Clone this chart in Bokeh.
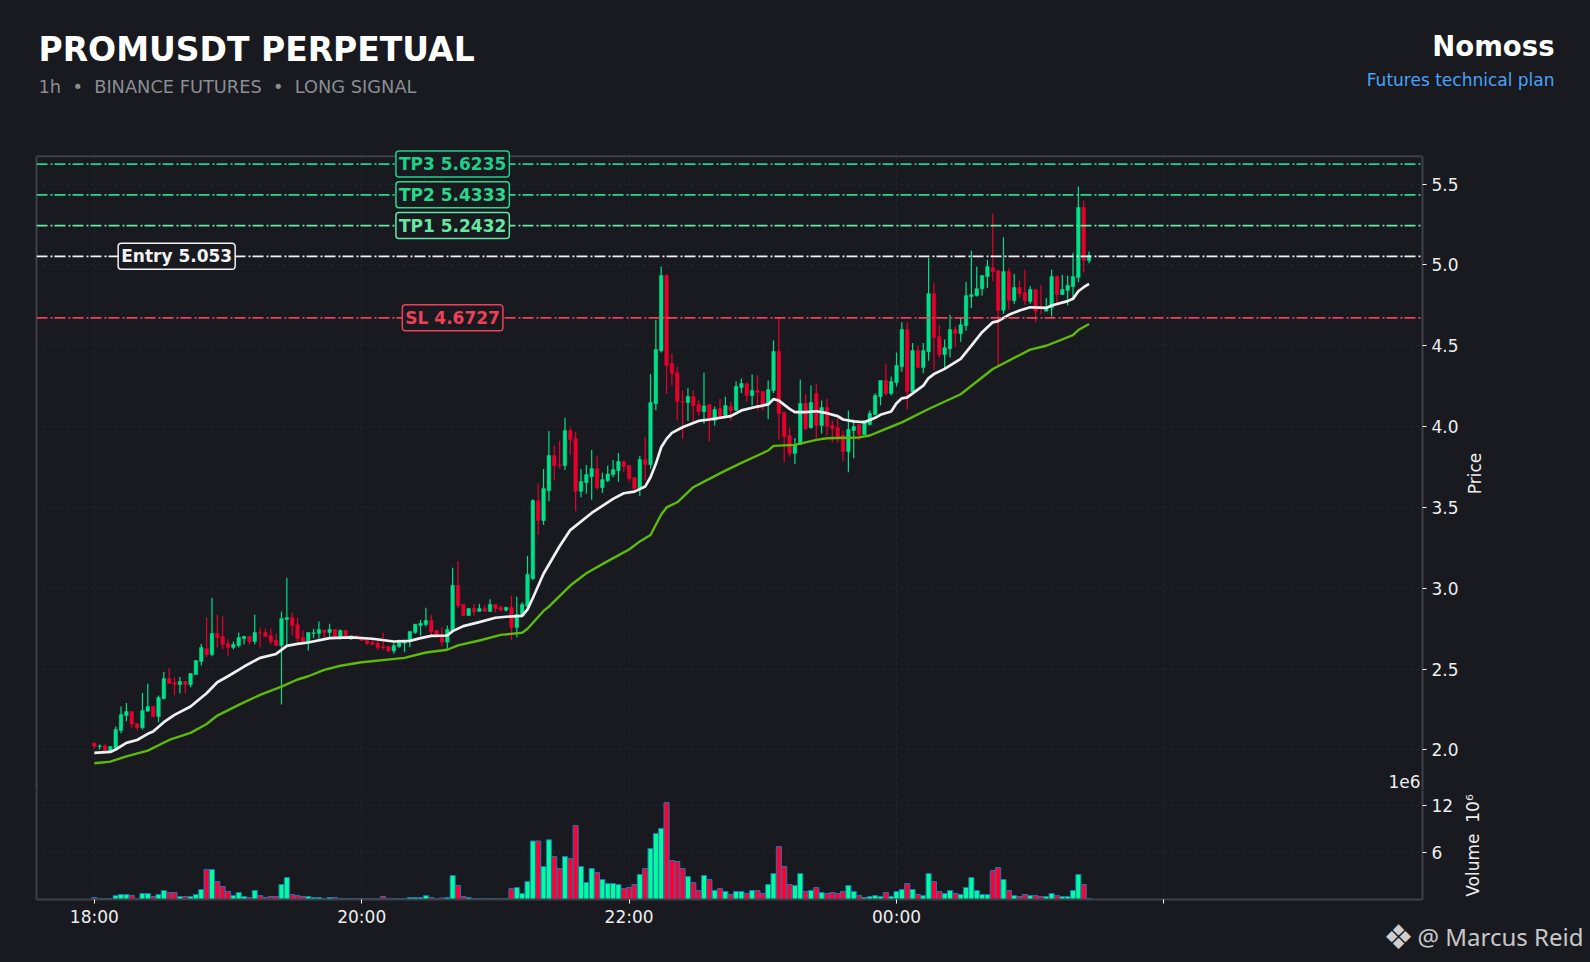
from math import pi
from bokeh.plotting import figure
from bokeh.layouts import column
from bokeh.models import (Range1d, LinearAxis, FixedTicker, Grid, Span, Label, ColumnDataSource)
from bokeh.embed import file_html
from bokeh.resources import INLINE

# ---------- data ----------
open_ = [2.044,2.022,2.027,1.997,2.011,2.12,2.213,2.238,2.164,2.137,2.24,2.269,2.207,2.318,2.442,2.417,2.405,2.423,2.405,2.467,
2.547,2.627,2.59,2.72,2.702,2.658,2.634,2.646,2.689,2.702,2.671,2.726,2.726,2.708,2.677,2.646,2.807,2.819,2.776,2.695,
2.669,2.721,2.721,2.741,2.727,2.745,2.702,2.739,2.687,2.706,2.694,2.677,2.665,2.659,2.638,2.64,2.613,2.64,2.66,2.684,
2.727,2.77,2.776,2.801,2.739,2.702,2.667,2.739,3.018,2.9,2.832,2.875,2.857,2.875,2.857,2.9,2.882,2.865,2.882,2.758,
2.832,2.888,3.06,3.542,3.419,3.604,3.821,3.763,3.759,3.975,3.926,3.6,3.654,3.691,3.74,3.623,3.666,3.703,3.728,3.784,
3.759,3.685,3.617,3.796,3.765,4.142,4.468,4.934,4.39,4.334,4.155,4.149,4.186,4.137,4.093,4.137,4.038,4.112,4.069,4.124,
4.1,4.242,4.265,4.192,4.223,4.217,4.143,4.223,4.465,4.087,3.945,3.834,3.889,4.143,3.994,4.205,4.007,4.118,4.007,3.994,
3.945,3.846,3.976,4.013,3.951,4.013,4.075,4.186,4.285,4.205,4.273,4.371,4.6,4.216,4.47,4.366,4.463,4.822,4.556,4.445,
4.482,4.6,4.575,4.624,4.804,4.81,4.853,4.928,4.982,4.965,4.719,4.959,4.78,4.86,4.829,4.774,4.848,4.735,4.714,4.734,
4.928,4.817,4.842,4.866,4.922,5.355,5.027]
close = [2.023,2.024,1.997,2.021,2.126,2.219,2.238,2.16,2.137,2.244,2.269,2.207,2.324,2.442,2.411,2.407,2.423,2.407,2.473,2.553,
2.634,2.59,2.72,2.695,2.652,2.634,2.652,2.695,2.702,2.671,2.726,2.724,2.702,2.671,2.646,2.813,2.819,2.77,2.69,2.665,
2.727,2.725,2.745,2.727,2.745,2.702,2.739,2.702,2.706,2.702,2.677,2.659,2.654,2.634,2.632,2.613,2.646,2.665,2.67,2.733,
2.778,2.783,2.801,2.731,2.698,2.667,2.745,3.018,2.894,2.832,2.875,2.855,2.875,2.857,2.9,2.875,2.865,2.882,2.758,2.838,
2.9,3.086,3.542,3.419,3.617,3.821,3.759,3.759,3.975,3.92,3.6,3.66,3.703,3.74,3.623,3.672,3.707,3.734,3.784,3.753,
3.678,3.617,3.796,3.765,4.149,4.476,4.934,4.378,4.328,4.155,4.151,4.186,4.13,4.093,4.128,4.048,4.106,4.062,4.13,4.1,
4.248,4.267,4.192,4.223,4.211,4.137,4.229,4.465,4.081,3.939,3.834,3.889,4.143,3.988,4.149,4.007,4.118,4.001,3.988,3.933,
3.846,3.982,4.0,3.951,4.038,4.081,4.192,4.285,4.205,4.279,4.378,4.6,4.216,4.47,4.366,4.47,4.822,4.552,4.445,4.488,
4.6,4.575,4.63,4.81,4.816,4.853,4.934,4.99,4.959,4.718,4.959,4.78,4.86,4.823,4.78,4.848,4.714,4.73,4.734,4.928,
4.817,4.848,4.873,4.928,5.355,5.027,5.058]
high = [2.044,2.034,2.036,2.021,2.145,2.269,2.291,2.238,2.164,2.353,2.409,2.269,2.337,2.483,2.506,2.45,2.452,2.423,2.473,2.553,
2.656,2.819,2.941,2.838,2.825,2.685,2.671,2.726,2.706,2.702,2.838,2.757,2.751,2.751,2.72,2.856,3.065,2.85,2.819,2.739,
2.727,2.75,2.795,2.745,2.78,2.749,2.745,2.739,2.706,2.706,2.7,2.694,2.69,2.681,2.725,2.644,2.661,2.683,2.68,2.733,
2.778,2.805,2.88,2.836,2.739,2.76,2.77,3.127,3.168,2.9,2.875,2.904,2.904,2.896,2.933,2.9,2.894,2.886,2.954,2.948,
2.914,3.201,3.55,3.646,3.738,3.973,3.881,3.912,4.054,3.996,3.967,3.738,3.763,3.856,3.819,3.714,3.759,3.794,3.837,3.79,
3.759,3.685,3.819,3.938,4.326,4.66,4.99,4.945,4.454,4.371,4.223,4.239,4.223,4.161,4.335,4.137,4.124,4.172,4.184,4.151,
4.279,4.298,4.271,4.322,4.316,4.217,4.285,4.533,4.677,4.087,3.996,3.93,4.291,4.199,4.254,4.265,4.161,4.172,4.038,4.05,
3.976,4.1,4.042,4.013,4.038,4.1,4.207,4.285,4.388,4.31,4.458,4.645,4.645,4.517,4.5,4.517,5.043,4.888,4.63,4.538,
4.692,4.62,4.676,4.896,5.088,4.99,4.934,5.031,5.316,4.965,5.171,4.98,4.945,4.903,4.97,4.87,4.848,4.877,4.796,4.97,
4.934,4.938,4.934,5.075,5.485,5.398,5.083]
low = [2.007,2.003,1.997,1.99,2.007,2.104,2.178,2.139,2.122,2.127,2.238,2.201,2.172,2.312,2.411,2.339,2.349,2.351,2.388,2.467,
2.522,2.574,2.58,2.634,2.625,2.584,2.621,2.634,2.652,2.652,2.652,2.636,2.698,2.652,2.644,2.281,2.646,2.708,2.665,2.665,
2.616,2.692,2.688,2.677,2.687,2.698,2.683,2.687,2.681,2.695,2.677,2.648,2.648,2.62,2.62,2.603,2.595,2.632,2.605,2.636,
2.719,2.708,2.764,2.708,2.694,2.64,2.626,2.739,2.88,2.832,2.832,2.83,2.857,2.857,2.857,2.851,2.855,2.857,2.682,2.698,
2.832,2.888,3.05,3.33,3.392,3.538,3.666,3.742,3.732,3.825,3.476,3.563,3.584,3.547,3.608,3.59,3.658,3.687,3.658,3.72,
3.662,3.604,3.571,3.666,3.738,4.101,4.458,4.202,4.256,4.039,3.924,4.035,4.017,4.069,4.017,3.906,4.007,4.05,4.065,4.034,
4.1,4.207,4.153,4.131,4.1,4.1,4.046,4.207,3.918,3.78,3.815,3.768,3.889,3.976,3.986,3.928,3.957,3.945,3.902,3.9,
3.788,3.718,3.805,3.914,3.951,4.007,4.069,4.131,4.192,4.192,4.248,4.34,4.105,4.202,4.362,4.33,4.408,4.352,4.428,4.356,
4.428,4.49,4.525,4.593,4.734,4.804,4.81,4.858,4.899,4.377,4.697,4.724,4.759,4.796,4.755,4.759,4.646,4.693,4.714,4.681,
4.755,4.817,4.749,4.784,4.893,4.955,5.01]
volume_m = [0.26,0.1,0.1,0.1,0.5,0.64,0.64,0.5,0.1,0.77,0.77,0.38,0.64,1.15,0.9,0.9,0.38,0.38,0.38,0.64,
1.28,3.85,3.85,2.3,1.67,1.03,0.5,0.9,0.38,0.26,1.15,0.5,0.26,0.38,0.38,1.92,2.82,0.64,0.5,0.38,
0.38,0.26,0.26,0.1,0.26,0.26,0.1,0.1,0.1,0.1,0.1,0.1,0.1,0.1,0.38,0.1,0.1,0.1,0.1,0.26,
0.26,0.26,0.5,0.26,0.1,0.2,0.26,3.08,1.8,0.38,0.26,0.1,0.1,0.1,0.1,0.1,0.1,0.1,1.41,1.54,
0.77,2.3,7.5,7.5,4.23,7.65,5.5,3.97,5.5,5.26,9.49,4.23,2.18,3.97,3.46,2.56,2.05,2.05,1.92,1.41,
1.54,1.92,3.2,3.97,6.54,8.46,9.1,12.44,5.0,4.87,3.97,2.95,2.18,1.15,3.08,2.56,1.15,1.41,1.03,0.64,
1.03,1.03,0.77,1.15,1.15,0.77,1.92,3.33,6.8,4.23,1.92,1.8,3.33,1.03,1.15,1.54,0.9,0.77,0.9,0.77,
1.03,1.8,1.03,0.5,0.26,0.38,0.5,0.38,0.9,0.38,1.03,1.28,2.05,1.28,0.64,0.5,3.33,2.3,1.03,0.77,
1.15,0.77,0.64,1.54,2.82,1.15,0.64,0.64,3.72,4.1,2.56,1.15,0.5,0.38,0.64,0.5,0.5,0.38,0.38,0.77,
0.5,0.38,0.38,1.15,3.2,1.92,0.13]
fast_idx = [0,3,4,6,8,10,11,13,15,18,21,23,25,28,31,34,36,38,40,44,48,52,56,59,61,63,66,67,69,72,75,77,80,81,82,84,87,89,93,97,99,101,103,104,105,106,107,108,110,112,113,115,119,121,124,126,127,128,130,131,133,135,137,139,140,142,144,146,147,149,150,151,152,155,156,157,159,162,164,166,168,169,171,173,175,178,179,182,183,184,185,186]
fast_ema = [1.982,1.988,2.003,2.044,2.062,2.1,2.114,2.172,2.217,2.269,2.351,2.419,2.456,2.516,2.57,2.594,2.644,2.656,2.665,2.692,2.696,2.688,2.671,2.675,2.692,2.706,2.708,2.735,2.766,2.791,2.818,2.824,2.83,2.87,2.94,3.09,3.26,3.36,3.466,3.553,3.588,3.598,3.629,3.687,3.77,3.872,3.924,3.961,3.996,4.022,4.035,4.044,4.065,4.1,4.124,4.137,4.17,4.161,4.11,4.089,4.089,4.095,4.083,4.065,4.044,4.032,4.027,4.054,4.073,4.093,4.144,4.175,4.181,4.253,4.3,4.325,4.357,4.419,4.501,4.584,4.645,4.652,4.691,4.718,4.738,4.734,4.749,4.776,4.79,4.837,4.862,4.883]
slow_idx = [0,3,6,10,14,18,21,23,27,31,35,38,40,43,46,50,58,62,66,68,72,76,80,81,84,85,89,92,96,100,102,104,106,107,109,112,114,118,121,126,127,131,135,137,143,145,148,151,156,162,168,175,178,183,184,186]
slow_ema = [1.918,1.928,1.961,1.996,2.062,2.106,2.161,2.213,2.279,2.341,2.392,2.436,2.456,2.496,2.521,2.543,2.57,2.603,2.62,2.647,2.677,2.712,2.725,2.75,2.86,2.887,3.017,3.093,3.168,3.24,3.29,3.33,3.456,3.5,3.532,3.625,3.66,3.728,3.776,3.852,3.881,3.887,3.918,3.928,3.933,3.945,3.986,4.026,4.109,4.2,4.356,4.476,4.5,4.566,4.597,4.635]
level_names = ["TP3 5.6235","TP2 5.4333","TP1 5.2432","Entry 5.053","SL 4.6727"]
level_values = [5.6235,5.4333,5.2432,5.053,4.6727]
level_colors = ["#1fcf8c","#28d98c","#66e8a4","#f2f2f2","#ee4058"]
level_label_x = [67.0,67.0,67.0,15.4,67.0]
price_ticks = [2.0,2.5,3.0,3.5,4.0,4.5,5.0,5.5]
volume_ticks = [6,12]
x_ticks = [0,50,100,150,200]
x_labels = ["18:00","20:00","22:00","00:00",""]

BG = "#181a20"
FRAME = "#3c4149"
GRID = "#23262c"
UP, DOWN = "#00e08a", "#e6002d"
VUP, VDOWN = "#00ff9c", "#ff0033"
PRICE_TOP_EDGE = 5.672
PRICE_BOTTOM = 1.7495

idx = list(range(len(close)))
up = [c >= o for o, c in zip(open_, close)]
src = ColumnDataSource(dict(
    x=idx, high=high, low=low,
    top=[max(o, c) for o, c in zip(open_, close)],
    bottom=[min(o, c) for o, c in zip(open_, close)],
    color=[UP if u else DOWN for u in up],
    vol=volume_m,
    vcolor=[VUP if u else VDOWN for u in up],
))

x_range = Range1d(-10.81, 248.35)

def base(height, ylo, yhi, bottom, left=36, right=168, xr=None):
    f = figure(width=1590, height=height, x_range=xr or x_range, y_range=Range1d(ylo, yhi),
               output_backend="svg", toolbar_location=None, tools="",
               x_axis_location=None, y_axis_location=None,
               min_border_left=left, min_border_right=right, min_border_top=0, min_border_bottom=bottom,
               background_fill_color=BG, border_fill_color=BG, outline_line_color=None)
    f.center = []
    return f

def blank_axis(f, side, bounds="auto"):
    ax = LinearAxis(ticker=FixedTicker(ticks=[]), major_label_text_font_size="0px", bounds=bounds,
                    axis_line_color=FRAME, axis_line_width=2,
                    major_tick_line_color=None, minor_tick_line_color=None)
    f.add_layout(ax, side)

def right_axis(f, ticks, overrides, bounds="auto"):
    ax = LinearAxis(ticker=FixedTicker(ticks=ticks), major_label_overrides=overrides, bounds=bounds,
                    axis_line_color=FRAME, axis_line_width=2,
                    major_tick_line_color="#ffffff", major_tick_out=4, major_tick_in=0,
                    minor_tick_line_color=None,
                    major_label_text_color="#eeeeee", major_label_text_font="DejaVu Sans",
                    major_label_text_font_size="17px", major_label_standoff=5)
    f.add_layout(ax, "right")

def grids(f, yticks, vbounds="auto"):
    f.add_layout(Grid(dimension=0, ticker=FixedTicker(ticks=x_ticks), bounds=vbounds, grid_line_color=GRID, grid_line_dash="3 3", grid_line_width=1))
    f.add_layout(Grid(dimension=1, ticker=FixedTicker(ticks=yticks), grid_line_color=GRID, grid_line_dash="3 3", grid_line_width=1))

def screen_label(f, x, y, text, **kw):
    opts = dict(x=x, y=y, x_units="screen", y_units="screen", text=text, text_font="DejaVu Sans",
                text_baseline="middle", text_align="left")
    opts.update(kw)
    f.add_layout(Label(**opts))

# ---------- header band (empty; its texts sit on the overlay) ----------
head = base(148, 0, 1, 0, left=0, right=0, xr=Range1d(0, 1))
head.frame_align = False

# ---------- price panel ----------
p1 = base(642, PRICE_BOTTOM, 5.7199, 0)
blank_axis(p1, "left", bounds=(PRICE_BOTTOM, PRICE_TOP_EDGE))
right_axis(p1, price_ticks, {t: f"{t:.1f}" for t in price_ticks}, bounds=(PRICE_BOTTOM, PRICE_TOP_EDGE))
grids(p1, price_ticks, vbounds=(PRICE_BOTTOM, PRICE_TOP_EDGE))
p1.add_layout(Span(location=PRICE_TOP_EDGE, dimension="width", line_color=FRAME, line_width=2))
p1.segment("x", "high", "x", "low", source=src, line_color="color", line_width=1.2)
p1.vbar("x", 0.66, "top", "bottom", source=src, fill_color="color", line_color="color", line_width=0.5)
p1.line(slow_idx, slow_ema, line_color="#5fbb08", line_width=2.4, line_join="round")
p1.line(fast_idx, fast_ema, line_color="#f0f0f0", line_width=2.7, line_join="round")
for name, v, c, lx in zip(level_names, level_values, level_colors, level_label_x):
    p1.add_layout(Span(location=v, dimension="width", line_color=c, line_width=1.8, line_dash="11 3 2 2"))
    p1.add_layout(Label(x=lx, y=v, text=name, text_color=c, text_font="DejaVu Sans", text_font_style="bold",
                        text_font_size="17px", text_align="center", text_baseline="middle",
                        background_fill_color=BG, border_line_color=c, border_line_width=1.5,
                        padding=3, border_radius=3))

# ---------- volume panel ----------
p2 = base(143, 0, 13.97, 34)
blank_axis(p2, "left")
right_axis(p2, volume_ticks, {t: str(t) for t in volume_ticks})
xax = LinearAxis(ticker=FixedTicker(ticks=x_ticks), major_label_overrides=dict(zip(x_ticks, x_labels)),
                 axis_line_color=FRAME, axis_line_width=2, major_tick_line_color="#ffffff",
                 major_tick_out=4, major_tick_in=0, minor_tick_line_color=None,
                 major_label_text_color="#eeeeee", major_label_text_font="DejaVu Sans",
                 major_label_text_font_size="17px", major_label_standoff=3)
p2.add_layout(xax, "below")
grids(p2, volume_ticks)
p2.vbar("x", 0.95, "vol", 0, source=src, fill_color="vcolor", line_color="#1f77b4", line_width=1)

# ---------- transparent page-sized overlay for every free text ----------
over = base(962, 0, 1, 0, left=0, right=0, xr=Range1d(0, 1))
over.frame_align = False
over.margin = (-933, 0, 0, 0)
over.background_fill_alpha = 0
over.border_fill_alpha = 0
screen_label(over, 38, 913, "PROMUSDT PERPETUAL", text_color="#ffffff", text_font_style="bold", text_font_size="33px")
screen_label(over, 38, 876, "1h\u00a0\u00a0•\u00a0\u00a0BINANCE FUTURES\u00a0\u00a0•\u00a0\u00a0LONG SIGNAL", text_color="#8b8e94", text_font_size="17.8px")
screen_label(over, 1554, 917, "Nomoss", text_color="#ffffff", text_font_style="bold", text_font_size="27.5px", text_align="right")
screen_label(over, 1554, 883, "Futures technical plan", text_color="#4aa3f5", text_font_size="17px", text_align="right")
screen_label(over, 1474, 489, "Price", text_color="#eeeeee", text_font_size="17px", text_align="center", angle=pi/2)
screen_label(over, 1472, 117, "Volume\u00a0\u00a010⁶", text_color="#eeeeee", text_font_size="17px", text_align="center", angle=pi/2)
screen_label(over, 1420, 181, "1e6", text_color="#eeeeee", text_font_size="17px", text_align="right")
screen_label(over, 1398, 26, "❖", text_color="#cfcfcf", text_font_size="34px", text_align="center")
screen_label(over, 1417, 26, "@ Marcus Reid", text_color="#c8c8c8", text_font="Noto Sans", text_font_size="24px")

page = column(head, p1, p2, over, spacing=0)
html = file_html(page, INLINE, title="PROMUSDT PERPETUAL")
html = html.replace("</head>", f"<style>html,body{{background:{BG} !important;}}</style></head>", 1)
open("out.html", "w").write(html)
